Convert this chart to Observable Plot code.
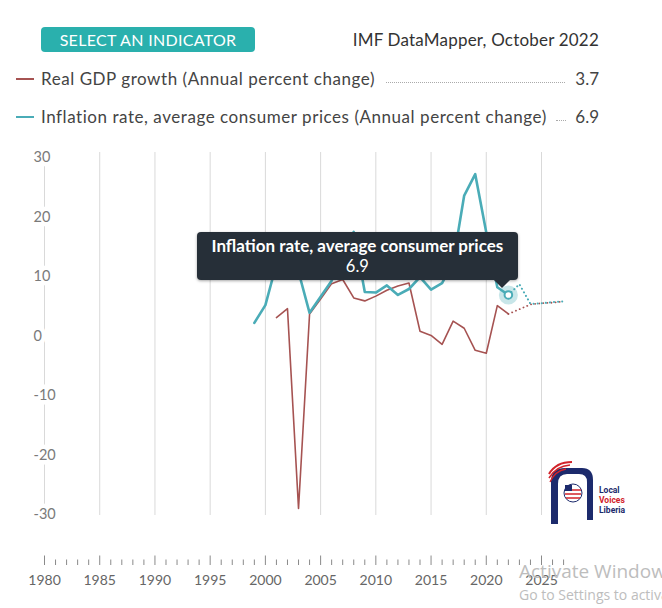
<!DOCTYPE html>
<html><head><meta charset="utf-8">
<script src="https://cdn.jsdelivr.net/npm/d3@7"></script>
<script src="https://cdn.jsdelivr.net/npm/@observablehq/plot@0.6"></script>
<style>
body{margin:0;background:#fff;font-family:Lato,"Open Sans",sans-serif;}
#root{position:relative;width:662px;height:608px;overflow:hidden;background:#fff;}
.abs{position:absolute;}
#btn{left:41px;top:27px;width:214px;height:25px;background:#2ab0ad;border-radius:4px;color:#fff;font-size:16px;line-height:25px;text-align:center;letter-spacing:0.3px;}
#source{right:63px;top:29px;font-size:17px;color:#333;white-space:nowrap;letter-spacing:0.2px;}
.leg{left:0;width:662px;height:22px;}
.leg .dash{position:absolute;left:16px;width:18px;height:2px;top:10px;}
.leg .lbl{position:absolute;left:41px;top:0;font-size:17px;letter-spacing:0.55px;color:#444;white-space:nowrap;line-height:22px;}
.leg .lead{position:absolute;top:14px;height:0;border-top:1px dotted #aaa;}
.leg .val{position:absolute;right:63px;top:0;font-size:17px;color:#444;line-height:22px;}
#tip{background:#262f38;border-radius:4px;color:#fff;text-align:center;box-shadow:0 1px 3px rgba(0,0,0,0.35);}
#tip .t1{font-weight:bold;font-size:17px;margin-top:4px;line-height:20px;}
#tip .t2{font-size:16.5px;line-height:21px;}
#ptr{width:0;height:0;border-left:8px solid transparent;border-right:8px solid transparent;border-top:8px solid #262f38;}
#wm1{left:519px;top:558px;font-family:"Open Sans",sans-serif;font-size:19px;color:#bdbdbd;white-space:nowrap;}
#wm2{left:519px;top:585px;font-family:"Open Sans",sans-serif;font-size:14px;color:#bdbdbd;white-space:nowrap;}
</style></head><body><div id="root"></div>
<script>
// ---------------- data ----------------
const seriesNames = ["Real GDP growth (Annual percent change)", "Inflation rate, average consumer prices (Annual percent change)"];
const legendValues = ["3.7", "6.9"];
const gdpYears = [2001,2002,2003,2004,2005,2006,2007,2008,2009,2010,2011,2012,2013,2014,2015,2016,2017,2018,2019,2020,2021,2022,2023,2024,2025,2026,2027];
const gdpValues = [3.1,4.6,-29.0,3.7,6.2,8.8,9.5,6.4,5.9,6.7,7.7,8.4,8.9,0.8,0.1,-1.4,2.5,1.3,-2.4,-2.9,5.1,3.7,4.5,5.3,5.5,5.6,5.8];
const infYears = [1999,2000,2001,2002,2003,2004,2005,2006,2007,2008,2009,2010,2011,2012,2013,2014,2015,2016,2017,2018,2019,2020,2021,2022,2023,2024,2025,2026,2027];
const infValues = [2.2,5.2,12.1,14.2,10.8,3.9,6.6,9.3,13.7,17.5,7.4,7.3,8.5,6.9,7.9,9.9,7.8,8.9,12.4,23.6,27.2,17.4,8.2,6.9,8.7,5.4,5.5,5.7,5.8];
const lastActualYear = 2022;
const gridYears = [1980,1985,1990,1995,2000,2005,2010,2015,2020,2025];
const axisLabelYears = [1980,1985,1990,1995,2000,2005,2010,2015,2020,2025];
const axisTickYears = [1980,1981,1982,1983,1984,1985,1986,1987,1988,1989,1990,1991,1992,1993,1994,1995,1996,1997,1998,1999,2000,2001,2002,2003,2004,2005,2006,2007,2008,2009,2010,2011,2012,2013,2014,2015,2016,2017,2018,2019,2020,2021,2022,2023,2024,2025,2026,2027];
const yTicks = [30,20,10,0,-10,-20,-30];
const tooltipTitle = "Inflation rate, average consumer prices";
const tooltipYear = 2022;

// ---------------- styles ----------------
const RED = "#a65352";
const TEAL = "#4aacb7";
const root = document.getElementById("root");

const gdp = gdpYears.map((year, i) => ({year, value: gdpValues[i]}));
const inf = infYears.map((year, i) => ({year, value: infValues[i]}));
const hi = inf.find(d => d.year === tooltipYear);

// header
root.insertAdjacentHTML("beforeend", `
<div id="btn" class="abs">SELECT AN INDICATOR</div>
<div id="source" class="abs">IMF DataMapper, October 2022</div>
<div class="abs leg" style="top:68px"><div class="dash" style="background:${RED}"></div><div class="lbl">${seriesNames[0]}</div><div class="lead" style="left:386px;width:179px"></div><div class="val">${legendValues[0]}</div></div>
<div class="abs leg" style="top:106px"><div class="dash" style="background:${TEAL}"></div><div class="lbl">${seriesNames[1]}</div><div class="lead" style="left:556px;width:10px"></div><div class="val">${legendValues[1]}</div></div>
`);

// main chart
const svgTop = 140;
const main = Plot.plot({
  width: 662, height: 380,
  marginTop: 12, marginBottom: 5, marginLeft: 44, marginRight: 121,
  style: {background: "transparent", overflow: "visible"},
  x: {domain: [1980, 2025], axis: null},
  y: {domain: [-30, 30], range: [374, 17], axis: null},
  marks: [
    Plot.ruleX(gridYears, {x: d => d, stroke: "#d9d9d9", strokeWidth: 1}),
    Plot.text(yTicks, {x: () => 1980, y: d => d, text: d => String(d), textAnchor: "start", dx: -11, fill: "#7a7a7a", stroke: "white", strokeWidth: 9, fontSize: 14.5, fontFamily: "Lato"}),
    Plot.line(gdp.filter(d => d.year <= lastActualYear), {x: "year", y: "value", stroke: RED, strokeWidth: 1.6}),
    Plot.line(gdp.filter(d => d.year >= lastActualYear), {x: "year", y: "value", stroke: RED, strokeWidth: 1.8, strokeDasharray: "0.1 4", strokeLinecap: "round"}),
    Plot.line(inf.filter(d => d.year <= lastActualYear), {x: "year", y: "value", stroke: TEAL, strokeWidth: 2.6}),
    Plot.line(inf.filter(d => d.year >= lastActualYear), {x: "year", y: "value", stroke: TEAL, strokeWidth: 2, strokeDasharray: "0.1 4", strokeLinecap: "round"}),
    Plot.dot([hi], {x: "year", y: "value", r: 9.5, fill: TEAL, fillOpacity: 0.3, stroke: "none"}),
    Plot.dot([hi], {x: "year", y: "value", r: 3.8, fill: "white", stroke: TEAL, strokeWidth: 2})
  ]
});
main.style.position = "absolute";
main.style.left = "0px";
main.style.top = svgTop + "px";
root.appendChild(main);

// x axis strip
const axTop = 540;
const axis = Plot.plot({
  width: 662, height: 60,
  marginTop: 0, marginBottom: 0, marginLeft: 44, marginRight: 121,
  style: {background: "transparent", overflow: "visible"},
  x: {domain: [1980, 2025], axis: null},
  y: {domain: [0, 60], range: [0, 60], axis: null},
  marks: [
    Plot.ruleX(axisTickYears, {x: d => d, y1: d => d % 5 === 0 ? 15.5 : 19.5, y2: 25, stroke: "#8a8a8a", strokeWidth: 1}),
    Plot.text(axisLabelYears, {x: d => d, y: 40, text: d => String(d), fill: "#666", fontSize: 14, fontFamily: "Lato"})
  ]
});
axis.style.position = "absolute";
axis.style.left = "0px";
axis.style.top = axTop + "px";
root.appendChild(axis);

// tooltip positioned from the plot scales
const px = main.scale("x").apply(hi.year);
const py = svgTop + main.scale("y").apply(hi.value);
const tipW = 321, tipH = 48;
root.insertAdjacentHTML("beforeend", `
<div id="tip" class="abs" style="left:${px + 10 - tipW}px;top:${py - 14 - tipH}px;width:${tipW}px;height:${tipH}px">
<div class="t1">${tooltipTitle}</div><div class="t2">${hi.value}</div></div>
<div id="ptr" class="abs" style="left:${px - 14}px;top:${py - 14.5}px"></div>
`);

// logo
root.insertAdjacentHTML("beforeend", `
<svg class="abs" style="left:546px;top:460px" width="90" height="68" viewBox="0 0 90 68">
  <path d="M5,64 L5,22 Q5,8 19,8 L36,8 Q47,8 47,20 L47,60 L41,60 L41,22 Q41,14 33,14 L21,14 Q12,14 12,24 L12,64 Z" fill="#1c2a6c"/>
  <path d="M3,14 Q10,2 26,2" stroke="#d2232a" stroke-width="2" fill="none"/>
  <path d="M3,18 Q10,6 24,5" stroke="#d2232a" stroke-width="1.5" fill="none"/>
  <path d="M4,22 Q9,11 20,9" stroke="#d2232a" stroke-width="1.3" fill="none"/>
  <circle cx="27" cy="33" r="9" fill="#fff" stroke="#1c2a6c" stroke-width="1"/>
  <path d="M19,30 L35,30 M19,34 L35,34 M20,38 L34,38" stroke="#d2232a" stroke-width="1.6"/>
  <rect x="19" y="25" width="7" height="6" fill="#1c2a6c"/>
  <text x="53" y="33" font-family="Roboto, Arial" font-weight="bold" font-size="8.5" fill="#1c2a6c">Local</text>
  <text x="53" y="43" font-family="Roboto, Arial" font-weight="bold" font-size="8.5" fill="#d2232a">Voices</text>
  <text x="53" y="53" font-family="Roboto, Arial" font-weight="bold" font-size="8.5" fill="#1c2a6c">Liberia</text>
</svg>
<div id="wm1" class="abs">Activate Windows</div>
<div id="wm2" class="abs">Go to Settings to activate Windows.</div>
`);
</script></body></html>
